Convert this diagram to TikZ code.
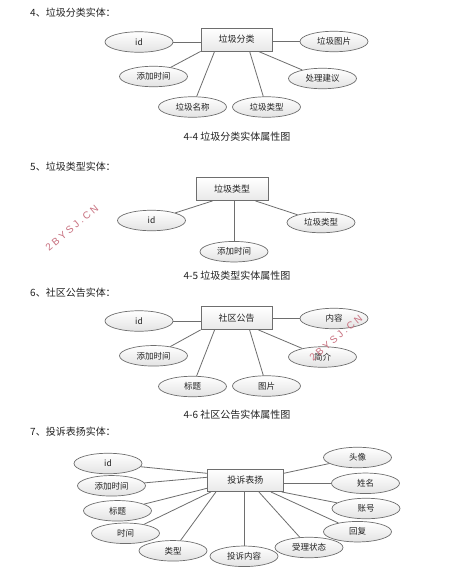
\documentclass[tikz,border=0pt]{standalone}
\usepackage{fontspec}
\setmainfont{Noto Sans CJK SC}
\newfontfamily\wmfont[LetterSpace=25]{Liberation Sans}
\usetikzlibrary{shapes.geometric,calc}
\definecolor{edgecol}{HTML}{6E6E6E}
\definecolor{txtcol}{HTML}{222222}
\definecolor{wmcol}{HTML}{C8707F}
\tikzset{
  attr/.style={ellipse, draw=edgecol, line width=0.7pt, top color=white, bottom color=gray!22,
    minimum width=68pt, minimum height=20.5pt, inner sep=0pt, text=txtcol,
    font=\fontsize{8.5}{10}\selectfont},
  ent/.style={rectangle, draw=edgecol, line width=0.8pt, top color=white, bottom color=gray!18,
    minimum width=71pt, minimum height=23pt, inner sep=0pt, text=txtcol,
    font=\fontsize{9}{11}\selectfont},
  conn/.style={draw=edgecol, line width=0.8pt},
  heading/.style={anchor=west, inner sep=0pt, text=txtcol, font=\fontsize{10}{12}\selectfont},
  caption/.style={inner sep=0pt, text=txtcol, font=\fontsize{10}{12}\selectfont},
  watermark/.style={rotate=40, text=wmcol, inner sep=0pt, font=\wmfont\fontsize{10}{12}\selectfont}
}
\begin{document}
\begin{tikzpicture}[x=1pt,y=-1pt]
\useasboundingbox (0,0) rectangle (474,579);
\fill[white] (0,0) rectangle (474,579);

% ---- Section 4 ----
\node[heading] (h1) at (30,12.7) {4、垃圾分类实体：};
\node[ent] (b1) at (236.5,39.5) {垃圾分类};
\node[attr] (a1id) at (139,42) {id};
\node[attr] (a1pic) at (334,41.5) {垃圾图片};
\node[attr] (a1time) at (153.5,76.5) {添加时间};
\node[attr] (a1sug) at (322.5,78.5) {处理建议};
\node[attr] (a1name) at (192.5,107) {垃圾名称};
\node[attr] (a1type) at (266.5,107) {垃圾类型};
\draw[conn] (a1id.east) -- (b1.west |- a1id.east);
\draw[conn] (b1.east |- a1pic.west) -- (a1pic.west);
\draw[conn] (b1.south west) -- (a1time);
\draw[conn] ([xshift=14pt]b1.south west) -- (a1name);
\draw[conn] ([xshift=49pt]b1.south west) -- (a1type);
\draw[conn] ([xshift=-14pt]b1.south east) -- (a1sug);
\node[caption] (c1) at (237,137) {4-4 垃圾分类实体属性图};

% ---- Section 5 ----
\node[heading] (h2) at (30,166.7) {5、垃圾类型实体：};
\node[ent, minimum width=72pt] (b2) at (232,189) {垃圾类型};
\node[attr] (a2id) at (151.5,220.5) {id};
\node[attr] (a2type) at (321,222.5) {垃圾类型};
\node[attr] (a2time) at (234,251.7) {添加时间};
\draw[conn] ([xshift=17pt]b2.south west) -- (a2id);
\draw[conn] (a2time.north |- b2.south) -- (a2time.north);
\draw[conn] ([xshift=-13pt]b2.south east) -- (a2type);
\node[caption] (c2) at (237,275.7) {4-5 垃圾类型实体属性图};
\node[watermark] (w1) at (72,228) {2BYSJ.CN};

% ---- Section 6 ----
\node[heading] (h3) at (30,292.7) {6、社区公告实体：};
\node[ent] (b3) at (236.5,318) {社区公告};
\node[attr] (a3id) at (139,321) {id};
\node[attr] (a3con) at (334,318.5) {内容};
\node[attr] (a3time) at (153.5,355.8) {添加时间};
\node[attr] (a3int) at (322.5,357) {简介};
\node[attr] (a3title) at (192.5,386.5) {标题};
\node[attr] (a3pic) at (266.5,386) {图片};
\draw[conn] (a3id.east) -- (b3.west |- a3id.east);
\draw[conn] (b3.east |- a3con.west) -- (a3con.west);
\draw[conn] (b3.south west) -- (a3time);
\draw[conn] ([xshift=14pt]b3.south west) -- (a3title);
\draw[conn] ([xshift=49pt]b3.south west) -- (a3pic);
\draw[conn] ([xshift=-14pt]b3.south east) -- (a3int);
\node[caption] (c3) at (237,415) {4-6 社区公告实体属性图};
\node[watermark] (w2) at (336,338) {2BYSJ.CN};

% ---- Section 7 ----
\node[heading] (h4) at (30,431.7) {7、投诉表扬实体：};
\node[ent, minimum width=76pt, minimum height=22.5pt] (b4) at (245.3,480.3) {投诉表扬};
\node[attr] (a4id) at (108,463.5) {id};
\node[attr] (a4time) at (111.5,485.8) {添加时间};
\node[attr] (a4title) at (117.5,510.8) {标题};
\node[attr] (a4shi) at (125.5,533.3) {时间};
\node[attr] (a4type) at (173,550.8) {类型};
\node[attr] (a4con) at (244,556.3) {投诉内容};
\node[attr] (a4state) at (309,547.5) {受理状态};
\node[attr] (a4reply) at (357.5,531.7) {回复};
\node[attr] (a4acct) at (366,508.5) {账号};
\node[attr] (a4name) at (365.5,483.3) {姓名};
\node[attr] (a4head) at (357.5,457.5) {头像};
\draw[conn] (a4id) -- ([yshift=7pt]b4.west);
\draw[conn] (a4time) -- ([yshift=3pt]b4.west);
\draw[conn] (a4title) -- ([yshift=-8pt]b4.west);
\draw[conn] (a4shi) -- ([xshift=4pt]b4.south west);
\draw[conn] (a4type) -- ([xshift=9pt]b4.south west);
\draw[conn] (a4con.north |- b4.south) -- (a4con.north);
\draw[conn] ([xshift=52pt]b4.south west) -- (a4state);
\draw[conn] ([xshift=64pt]b4.south west) -- (a4reply);
\draw[conn] ([xshift=-2pt]b4.south east) -- (a4acct);
\draw[conn] (b4.east |- a4name.west) -- (a4name.west);
\draw[conn] ([yshift=7pt]b4.east) -- (a4head);
\end{tikzpicture}
\end{document}
